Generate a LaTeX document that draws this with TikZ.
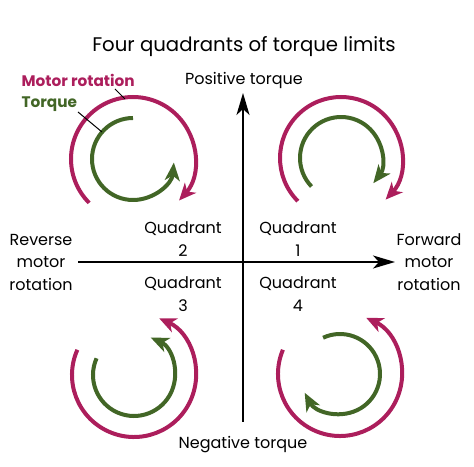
\documentclass[tikz,border=0pt]{standalone}
\usepackage{fontspec}
\setmainfont{Poppins}
\usetikzlibrary{arrows.meta, positioning}
\definecolor{rotmag}{RGB}{172,30,92}
\definecolor{trqgreen}{RGB}{66,102,38}

\begin{document}
\begin{tikzpicture}[x=1pt, y=1pt,
        motor/.style={draw=rotmag, line width=4pt, -{Stealth[length=17pt, width=15pt, inset=5pt]}},
        torque/.style={draw=trqgreen, line width=4pt, -{Stealth[length=18pt, width=15pt, inset=5pt]}},
        axis/.style={line width=1.8pt, -{Stealth[length=22pt, width=13pt, inset=6pt]}},
        lbl/.style={align=center, font=\fontsize{16}{22.5}\selectfont},
        leader/.style={line width=1pt}
    ]
        \useasboundingbox (0,0) rectangle (474,466);

        % title
        \node[font=\fontsize{19.7}{22}\selectfont] (title) at (244,419) {Four quadrants of torque limits};

        % axes
        \coordinate (vbot) at (243,44);
        \coordinate (vtop) at (243,373);
        \coordinate (hleft) at (78,204);
        \coordinate (hright) at (395,204);
        \draw[axis] (vbot) -- (vtop);
        \draw[axis] (hleft) -- (hright);

        \node[lbl] (postorque) at (244,386) {Positive torque};
        \node[lbl] (negtorque) at (243,21) {Negative torque};
        \node[lbl] (reverse) at (41,204) {Reverse\\motor\\rotation};
        \node[lbl] (forward) at (429,204) {Forward\\motor\\rotation};

        % quadrant labels
        \node[lbl] (q1) at (298,227) {Quadrant\\1};
        \node[lbl] (q2) at (183,227) {Quadrant\\2};
        \node[lbl] (q3) at (183,172) {Quadrant\\3};
        \node[lbl] (q4) at (298,172) {Quadrant\\4};

        % centres of the rotation circles
        \coordinate (c1) at (341,308);
        \coordinate (c2) at (133,307);
        \coordinate (c3) at (134,91);
        \coordinate (c4) at (340,92);

        % quadrant 1
        \draw[motor] (c1) ++(225:61) arc[start angle=225, end angle=-43, radius=61];
        \draw[torque] (c1) ++(224:41) arc[start angle=224, end angle=-38, radius=41];
        % quadrant 2
        \draw[motor] (c2) ++(225:62) arc[start angle=225, end angle=-42, radius=62];
        \draw[torque] (c2) ++(90:41) arc[start angle=90, end angle=355, radius=41];
        % quadrant 3
        \draw[motor] (c3) ++(156:62) arc[start angle=156, end angle=426, radius=62];
        \draw[torque] (c3) ++(156:41) arc[start angle=156, end angle=426, radius=41];
        % quadrant 4
        \draw[motor] (c4) ++(157:62) arc[start angle=157, end angle=425, radius=62];
        \draw[torque] (c4) ++(115:40) arc[start angle=115, end angle=-152, radius=40];

        % legend
        \node[font=\fontsize{15.3}{16}\selectfont\bfseries, text=rotmag, anchor=west] (motorlbl) at (18,386) {Motor rotation};
        \node[font=\fontsize{15.3}{16}\selectfont\bfseries, text=trqgreen, anchor=west] (torquelbl) at (18,362) {Torque};
        \coordinate (mfrom) at (115,377);
        \coordinate (mto) at (125,367);
        \coordinate (tfrom) at (78,354);
        \coordinate (tto) at (102,334);
        \draw[leader] (mfrom) -- (mto);
        \draw[leader] (tfrom) -- (tto);

    \end{tikzpicture}
\end{document}
